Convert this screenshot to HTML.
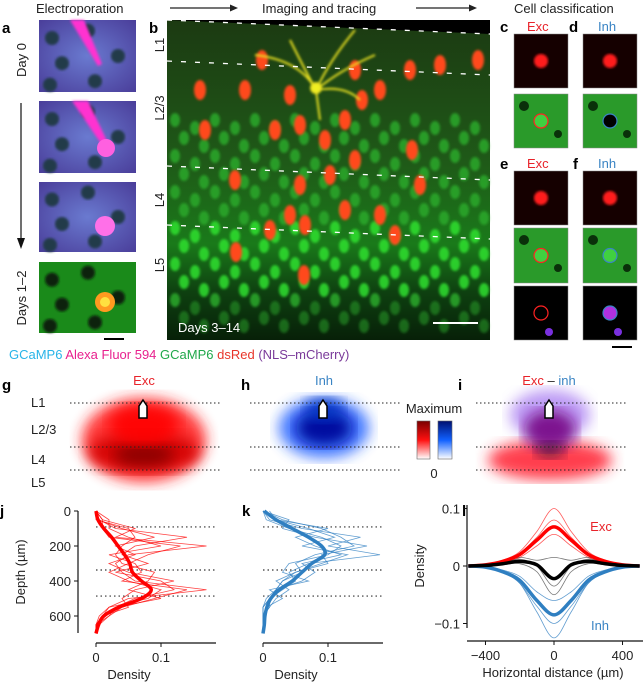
<!DOCTYPE html>
<html><head><meta charset="utf-8"><style>
html,body{margin:0;padding:0;background:#fff;width:643px;height:685px;overflow:hidden}
svg{display:block;font-family:"Liberation Sans",Arial,sans-serif}
</style></head><body>
<svg id="fig" width="643" height="685" viewBox="0 0 643 685" xmlns="http://www.w3.org/2000/svg">
<defs>
<filter id="b1"><feGaussianBlur stdDeviation="1.2"/></filter>
<filter id="b2"><feGaussianBlur stdDeviation="2.5"/></filter>
<filter id="b6"><feGaussianBlur stdDeviation="7"/></filter>
<linearGradient id="bg-b" x1="0" y1="0" x2="0" y2="1">
<stop offset="0" stop-color="#1c3a12"/><stop offset="0.45" stop-color="#1f5a18"/><stop offset="0.7" stop-color="#1a7a1a"/><stop offset="0.85" stop-color="#0e4010"/><stop offset="1" stop-color="#072008"/></linearGradient>
<radialGradient id="cyan" cx="0.5" cy="0.5" r="0.7"><stop offset="0" stop-color="#6a7ad0"/><stop offset="1" stop-color="#4a3e9a"/></radialGradient>
<linearGradient id="cbR" x1="0" y1="0" x2="0" y2="1"><stop offset="0" stop-color="#7a0000"/><stop offset="0.5" stop-color="#ff1010"/><stop offset="1" stop-color="#fff"/></linearGradient>
<linearGradient id="cbB" x1="0" y1="0" x2="0" y2="1"><stop offset="0" stop-color="#001070"/><stop offset="0.5" stop-color="#1060ff"/><stop offset="1" stop-color="#fff"/></linearGradient>
</defs>

<!-- Header -->
<text x="36" y="13" font-size="13" fill="#222">Electroporation</text>
<text x="262" y="13" font-size="13" fill="#222">Imaging and tracing</text>
<text x="514" y="13" font-size="13" fill="#222">Cell classification</text>
<g><line x1="170" y1="8" x2="232" y2="8" stroke="#222" stroke-width="1.2"/><path d="M238 8 L230 4.5 L230 11.5Z" fill="#222"/></g>
<g><line x1="416" y1="8" x2="471" y2="8" stroke="#222" stroke-width="1.2"/><path d="M477 8 L469 4.5 L469 11.5Z" fill="#222"/></g>

<!-- Panel a -->
<text x="2" y="33" font-size="15" font-weight="bold">a</text>
<text transform="translate(26,60) rotate(-90)" text-anchor="middle" font-size="13" fill="#222">Day 0</text>
<text transform="translate(26,298) rotate(-90)" text-anchor="middle" font-size="13" fill="#222">Days 1–2</text>
<g><line x1="21" y1="103" x2="21" y2="240" stroke="#111" stroke-width="1.2"/><path d="M21 249 L17 238 L25 238Z" fill="#111"/></g>
<g id="a-imgs"></g>
<line x1="104" y1="339" x2="124" y2="339" stroke="#000" stroke-width="2"/>

<!-- Panel b -->
<text x="149" y="33" font-size="15" font-weight="bold">b</text>
<g font-size="13" fill="#222">
<text transform="translate(164,45) rotate(-90)" text-anchor="middle">L1</text>
<text transform="translate(164,108) rotate(-90)" text-anchor="middle">L2/3</text>
<text transform="translate(164,200) rotate(-90)" text-anchor="middle">L4</text>
<text transform="translate(164,265) rotate(-90)" text-anchor="middle">L5</text>
</g>
<g id="b-img">
<rect x="167" y="20" width="323" height="320" fill="url(#bg-b)"/>
<path d="M167 20 L490 20 L490 34Z" fill="#000"/>
<g id="b-green" filter="url(#b1)"></g>
<g id="b-red" filter="url(#b1)"></g>
<g stroke="#e8e020" stroke-width="2" fill="none" filter="url(#b1)">
<path d="M316 90 Q300 60 255 55"/><path d="M316 90 Q330 60 355 30"/><path d="M316 90 Q305 70 290 40"/><path d="M316 90 Q340 70 375 55"/><path d="M316 90 L320 120"/><path d="M316 90 Q345 85 360 100"/>
<circle cx="316" cy="88" r="5" fill="#f0f020"/></g>
<g stroke="#fff" stroke-width="1.3" stroke-dasharray="5,9">
<line x1="167" y1="20" x2="490" y2="34"/><line x1="167" y1="61" x2="490" y2="75"/><line x1="167" y1="166" x2="490" y2="180"/><line x1="167" y1="225" x2="490" y2="239"/></g>
<text x="178" y="332" font-size="13" fill="#fff">Days 3–14</text>
<line x1="433" y1="323" x2="478" y2="323" stroke="#fff" stroke-width="2"/>
</g>

<!-- Panels c-f -->
<g font-size="15" font-weight="bold">
<text x="500" y="32">c</text>
<text x="569" y="32">d</text>
<text x="500" y="169">e</text>
<text x="573" y="169">f</text></g>
<g font-size="13">
<text x="527" y="31" fill="#e8232a">Exc</text>
<text x="598" y="31" fill="#3a84c4">Inh</text>
<text x="527" y="168" fill="#e8232a">Exc</text>
<text x="598" y="168" fill="#3a84c4">Inh</text></g>
<g id="cf"></g>
<line x1="612" y1="347" x2="632" y2="347" stroke="#000" stroke-width="2"/>

<!-- Legend row -->
<text x="9" y="359" font-size="13"><tspan fill="#27b4e8">GCaMP6 </tspan><tspan fill="#e8208e">Alexa Fluor 594 </tspan><tspan fill="#20a84a">GCaMP6 </tspan><tspan fill="#e8352a">dsRed </tspan><tspan fill="#7a3a9a">(NLS–mCherry)</tspan></text>

<!-- Heatmaps g h i -->
<g font-size="15" font-weight="bold">
<text x="2" y="390">g</text>
<text x="241" y="390">h</text>
<text x="458" y="390">i</text></g>
<g font-size="13">
<text x="144" y="385" text-anchor="middle" fill="#e8232a">Exc</text>
<text x="324" y="385" text-anchor="middle" fill="#3a84c4">Inh</text>
<text x="549" y="385" text-anchor="middle"><tspan fill="#e8232a">Exc</tspan><tspan fill="#222"> – </tspan><tspan fill="#3a84c4">inh</tspan></text>
<text x="31" y="407" fill="#222">L1</text>
<text x="31" y="434" fill="#222">L2/3</text>
<text x="31" y="464" fill="#222">L4</text>
<text x="31" y="487" fill="#222">L5</text>
<text x="434" y="413" text-anchor="middle" fill="#222">Maximum</text>
<text x="434" y="478" text-anchor="middle" fill="#222">0</text></g>
<rect x="417" y="421" width="13" height="38" fill="url(#cbR)" stroke="#666" stroke-width="0.6"/>
<rect x="438" y="421" width="14" height="38" fill="url(#cbB)" stroke="#666" stroke-width="0.6"/>
<g id="heat"></g>

<!-- Charts j k l -->
<g font-size="15" font-weight="bold">
<text x="0" y="516">j</text>
<text x="242" y="516">k</text>
<text x="462" y="516">l</text></g>
<g id="charts" font-size="13" fill="#222"></g>
</svg>
<script>
// ---------- chart data ----------
const depthGrid = [0,50,100,150,200,250,300,350,400,450,500,550,600,650,700];
const excMean = [0,0.003,0.012,0.024,0.034,0.044,0.052,0.056,0.07,0.085,0.07,0.035,0.012,0.004,0];
const inhMean = [0.002,0.02,0.045,0.07,0.09,0.095,0.075,0.06,0.045,0.025,0.012,0.006,0.003,0.002,0];
const excTraces = [
 [0,0.01,0.06,0.03,0.17,0.05,0.03,0.04,0.06,0.17,0.05,0.02,0.01,0,0],
 [0,0.005,0.03,0.14,0.06,0.04,0.08,0.03,0.1,0.12,0.06,0.03,0.01,0,0],
 [0,0.02,0.02,0.05,0.1,0.02,0.06,0.07,0.04,0.14,0.09,0.04,0.02,0.005,0],
 [0,0.002,0.04,0.09,0.03,0.06,0.02,0.05,0.12,0.06,0.04,0.05,0.01,0,0],
 [0,0.01,0.01,0.02,0.13,0.08,0.05,0.02,0.05,0.1,0.08,0.02,0.005,0,0],
 [0,0,0.05,0.06,0.04,0.03,0.04,0.09,0.08,0.05,0.1,0.03,0.02,0,0]];
const inhTraces = [
 [0,0.03,0.09,0.12,0.14,0.08,0.05,0.06,0.03,0.02,0.01,0,0,0,0],
 [0,0.01,0.06,0.15,0.1,0.18,0.07,0.04,0.05,0.03,0.01,0.01,0,0,0],
 [0,0.04,0.03,0.08,0.16,0.09,0.1,0.05,0.02,0.04,0.02,0.01,0,0,0],
 [0.01,0.02,0.1,0.05,0.08,0.12,0.06,0.08,0.06,0.02,0.005,0,0,0,0],
 [0,0.005,0.04,0.09,0.12,0.1,0.04,0.03,0.07,0.01,0.03,0.005,0,0,0],
 [0,0.02,0.07,0.11,0.06,0.13,0.09,0.05,0.03,0.02,0.01,0,0,0,0]];
const layerDepths = [91,337,486];
const depthTicks = [0,200,400,600];
const densityTicks = [0,0.1];
const horizGrid = [-500,-400,-300,-200,-100,0,100,200,300,400,500];
const lExc = [0,0.002,0.008,0.02,0.045,0.068,0.045,0.02,0.008,0.002,0];
const lInh = [0,-0.002,-0.01,-0.025,-0.06,-0.085,-0.06,-0.025,-0.01,-0.002,0];
const lDiff = [0,0.001,0.004,0.008,0.002,-0.022,0.002,0.008,0.004,0.001,0];
const lExcTraces = [[0,0.003,0.01,0.025,0.06,0.1,0.06,0.025,0.01,0.003,0],[0,0.001,0.006,0.015,0.035,0.055,0.035,0.015,0.006,0.001,0],[0,0.002,0.009,0.022,0.05,0.08,0.05,0.022,0.009,0.002,0]];
const lInhTraces = [[0,-0.003,-0.012,-0.03,-0.08,-0.125,-0.08,-0.03,-0.012,-0.003,0],[0,-0.001,-0.007,-0.018,-0.045,-0.06,-0.045,-0.018,-0.007,-0.001,0],[0,-0.002,-0.01,-0.03,-0.07,-0.1,-0.07,-0.03,-0.01,-0.002,0]];
const lDiffTraces = [[0,0.002,0.006,0.015,0.01,0.015,0.01,0.015,0.006,0.002,0],[0,0,0.002,0.004,-0.01,-0.05,-0.01,0.004,0.002,0,0],[0,0.001,0.005,0.012,0.0,-0.035,0.0,0.012,0.005,0.001,0]];
const horizTicks = [-400,0,400];
const lTicks = [0.1,0,-0.1];

const NS='http://www.w3.org/2000/svg';
function mk(tag,attrs,parent){const e=document.createElementNS(NS,tag);for(const k in attrs)e.setAttribute(k,attrs[k]);parent.appendChild(e);return e;}
function smooth(pts){let d='M'+pts[0][0]+' '+pts[0][1];for(let i=0;i<pts.length-1;i++){const p0=pts[i-1]||pts[i],p1=pts[i],p2=pts[i+1],p3=pts[i+2]||p2;const c1=[p1[0]+(p2[0]-p0[0])/6,p1[1]+(p2[1]-p0[1])/6],c2=[p2[0]-(p3[0]-p1[0])/6,p2[1]-(p3[1]-p1[1])/6];d+=' C'+c1[0]+' '+c1[1]+' '+c2[0]+' '+c2[1]+' '+p2[0]+' '+p2[1];}return d;}
const C=document.getElementById('charts');

// Depth chart builder
function depthChart(x0, withYAxis, mean, traces, color, name){
  const xs=v=>x0+v*650, ys=d=>511+d*0.175;
  const g=mk('g',{},C);
  
  
  layerDepths.forEach(d=>{const l=mk('line',{x1:x0,x2:x0+120,y1:ys(d),y2:ys(d),stroke:'#333','stroke-width':1.2,'stroke-dasharray':'1.5,3'},g);
    
    });
  traces.forEach(t=>{const p=mk('path',{d:'M'+t.map((v,i)=>xs(v)+' '+ys(depthGrid[i])).join(' L'),fill:'none',stroke:color,'stroke-width':0.8,opacity:0.75},g);
    
    });
  const m=mk('path',{d:smooth(mean.map((v,i)=>[xs(v),ys(depthGrid[i])])),fill:'none',stroke:color,'stroke-width':3.5},g);
  
  
  const xa=mk('line',{x1:x0,x2:x0+120,y1:643,y2:643,stroke:'#111','stroke-width':1.2},g);
  
  
  densityTicks.forEach(v=>{mk('line',{x1:xs(v),x2:xs(v),y1:643,y2:647,stroke:'#111'},g);
    const t=mk('text',{x:xs(v),y:662,'text-anchor':'middle'},g);t.textContent=v;
    
    });
  const xl=mk('text',{x:x0+33,y:679,'text-anchor':'middle'},g);xl.textContent='Density';
  
  
  if(withYAxis){
    const ya=mk('line',{x1:78,x2:78,y1:511,y2:633,stroke:'#111','stroke-width':1.2},g);
    
    
    depthTicks.forEach(d=>{mk('line',{x1:74,x2:78,y1:ys(d),y2:ys(d),stroke:'#111'},g);
      const t=mk('text',{x:71,y:ys(d)+5,'text-anchor':'end'},g);t.textContent=d;
      
      });
    const yl=mk('text',{transform:'translate(25,572) rotate(-90)','text-anchor':'middle'},g);yl.textContent='Depth (µm)';
    
    
  }
}
depthChart(96,true,excMean,excTraces,'#f00','exc-depth-chart');
depthChart(263,false,inhMean,inhTraces,'#2f7fc1','inh-depth-chart');

// Panel l
(function(){
  const xs=v=>554+v*0.1713, ys=v=>566-v*575;
  const g=mk('g',{},C);
  
  
  const sets=[[lExcTraces,'#f33'],[lDiffTraces,'#555'],[lInhTraces,'#3a84c4']];
  sets.forEach(([tr,col])=>tr.forEach(t=>{const p=mk('path',{d:smooth(t.map((v,i)=>[xs(horizGrid[i]),ys(v)])),fill:'none',stroke:col,'stroke-width':0.8,opacity:0.8},g);
    
    }));
  [[lExc,'#f00','exc-mean-curve'],[lInh,'#2f7fc1','inh-mean-curve'],[lDiff,'#000','difference-mean-curve']].forEach(([s,col,n])=>{
    const p=mk('path',{d:smooth(s.map((v,i)=>[xs(horizGrid[i]),ys(v)])),fill:'none',stroke:col,'stroke-width':3.5},g);
    
    });
  const ya=mk('line',{x1:467,x2:467,y1:505,y2:628,stroke:'#111','stroke-width':1.2},g);
  
  
  lTicks.forEach(v=>{mk('line',{x1:463,x2:467,y1:ys(v),y2:ys(v),stroke:'#111'},g);
    const t=mk('text',{x:460,y:ys(v)+5,'text-anchor':'end'},g);t.textContent=v===0?'0':(v<0?'−0.1':'0.1');
    
    });
  const xa=mk('line',{x1:467,x2:643,y1:641,y2:641,stroke:'#111','stroke-width':1.2},g);
  
  
  horizTicks.forEach(v=>{mk('line',{x1:xs(v),x2:xs(v),y1:641,y2:645,stroke:'#111'},g);
    const t=mk('text',{x:xs(v),y:660,'text-anchor':'middle'},g);t.textContent=v<0?'−400':v;
    
    });
  const xl=mk('text',{x:553,y:677,'text-anchor':'middle'},g);xl.textContent='Horizontal distance (µm)';
  
  
  const yl=mk('text',{transform:'translate(424,566) rotate(-90)','text-anchor':'middle'},g);yl.textContent='Density';
  
  
  const e=mk('text',{x:601,y:531,fill:'#e8232a','text-anchor':'middle'},g);e.textContent='Exc';
  
  
  const n=mk('text',{x:600,y:630,fill:'#3a84c4','text-anchor':'middle'},g);n.textContent='Inh';
  
  
})();

// Heatmaps
(function(){
  const H=document.getElementById('heat');
  function hm(cx,name,layers){
    const g=mk('g',{},H);
    
    
    layers.forEach(L=>mk('ellipse',{cx:cx+L[0],cy:L[1],rx:L[2],ry:L[3],fill:L[4],opacity:L[5],filter:'url(#b6)'},g));
    const x1=cx-74,x2=cx+76;
    [403,447,470].forEach(y=>mk('line',{x1:x1,x2:x2,y1:y,y2:y,stroke:'#222','stroke-width':1,'stroke-dasharray':'1.5,2.5'},g));
    const mkr=mk('g',{},g);
    
    
    mk('path',{d:`M${cx-1} 400 L${cx+3} 406 L${cx+3} 418 L${cx-5} 418 L${cx-5} 406Z`,fill:'#fff',stroke:'#000','stroke-width':1.5},mkr);
  }
  hm(144,'exc-heatmap',[[0,440,62,42,'#ff2020',0.9],[0,452,55,20,'#d00000',0.9],[0,455,30,12,'#800000',0.8],[0,425,35,20,'#f00',0.9]]);
  hm(324,'inh-heatmap',[[0,428,45,30,'#2060ff',0.85],[0,428,28,18,'#0010a0',1],[0,410,20,12,'#0030c0',0.8]]);
  hm(550,'diff-heatmap',[[0,460,62,20,'#ff2a3a',0.9],[0,415,40,25,'#a070f0',0.7],[0,430,26,20,'#7a0a8a',0.95],[0,450,15,8,'#3a0a3a',0.7]]);
})();

// Panel a microscopy
(function(){
  const A=document.getElementById('a-imgs');
  const boxes=[[20,92],[101,173],[182,252],[262,333]];
  boxes.forEach((b,i)=>{
    const g=mk('g',{},A);
    
    
    const h=b[1]-b[0];
    mk('rect',{x:39,y:b[0],width:97,height:h,fill:i<3?'url(#cyan)':'#1a8a1a'},g);
    const dots=[[52,0.25],[88,0.15],[62,0.6],[118,0.5],[95,0.85],[50,0.9]];
    dots.forEach(d=>mk('circle',{cx:d[0],cy:b[0]+d[1]*h,r:7,fill:i<3?'#203a48':'#0a200a',filter:'url(#b1)'},g));
    if(i===0){mk('path',{d:`M70 ${b[0]} L84 ${b[0]} L102 ${b[0]+44} L98 ${b[0]+46}Z`,fill:'#ff30d0',filter:'url(#b1)'},g);}
    if(i===1){mk('path',{d:`M72 ${b[0]} L88 ${b[0]} L108 ${b[0]+42} L102 ${b[0]+44}Z`,fill:'#ff30d0',filter:'url(#b1)'},g);mk('circle',{cx:106,cy:b[0]+47,r:9,fill:'#ff60e0'},g);}
    if(i===2){mk('circle',{cx:105,cy:b[0]+44,r:10,fill:'#ff70e8'},g);}
    if(i===3){mk('circle',{cx:105,cy:b[0]+40,r:10,fill:'#ff9a20'},g);mk('circle',{cx:105,cy:b[0]+40,r:5,fill:'#ffe040'},g);}
  });
})();

// Panel b cells
(function(){
  const red=[[262,60],[245,90],[290,95],[300,125],[275,130],[325,140],[345,120],[362,100],[380,90],[355,160],[330,175],[300,185],[290,215],[235,180],[205,130],[200,90],[440,65],[478,60],[412,150],[345,210],[380,215],[305,225],[270,230],[420,185],[395,235],[236,252],[304,275],[410,70],[355,70]];
  const grn=[];
  for(let r=0;r<12;r++)for(let c=0;c<16;c++){const y=120+r*18+(c%2)*8;if(y>335)continue;grn.push([175+c*20+(r%2)*9,y]);}
  const R=document.getElementById('b-red'),G=document.getElementById('b-green');
  grn.forEach(p=>mk('ellipse',{cx:p[0],cy:p[1],rx:5,ry:7,fill:p[1]>225&&p[1]<300?'#30e030':'#2aa82a',opacity:p[1]>300?0.5:0.85},G));
  red.forEach(p=>mk('ellipse',{cx:p[0],cy:p[1],rx:6,ry:10,fill:'#ff4a1a'},R));
})();

// Panels c-f
(function(){
  const P=document.getElementById('cf');
  const cols=[514,583];
  const rows=[[34,88,'red'],[94,148,'green'],[171,225,'red'],[228,283,'green'],[286,340,'black']];
  rows.forEach((r,ri)=>cols.forEach((x,ci)=>{
    const g=mk('g',{},P);
    
    
    const w=54,h=r[1]-r[0],cx=x+w/2,cy=r[0]+h/2;
    mk('rect',{x:x,y:r[0],width:w,height:h,fill:r[2]==='green'?'#2a9a2a':(r[2]==='red'?'#150000':'#000'),stroke:'#888','stroke-width':0.5},g);
    const outline=ci===0?'#f22':'#3a84c4';
    if(r[2]==='red'){mk('circle',{cx:cx,cy:cy,r:7,fill:'#ff1a1a',filter:'url(#b1)'},g);}
    if(r[2]==='green'){mk('circle',{cx:x+10,cy:r[0]+12,r:5,fill:'#0a300a'},g);mk('circle',{cx:x+44,cy:r[0]+40,r:4,fill:'#0a300a'},g);
      mk('circle',{cx:cx,cy:cy,r:7,fill:ri===1&&ci===1?'#000':'#40d040',stroke:outline,'stroke-width':1.2},g);}
    if(r[2]==='black'){mk('circle',{cx:cx,cy:cy,r:7,fill:ci===1?'#b030e0':'none',stroke:outline,'stroke-width':1.2},g);mk('circle',{cx:cx+8,cy:r[1]-8,r:4,fill:'#7a30e0'},g);}
  }));
})();
</script>
</body></html>
